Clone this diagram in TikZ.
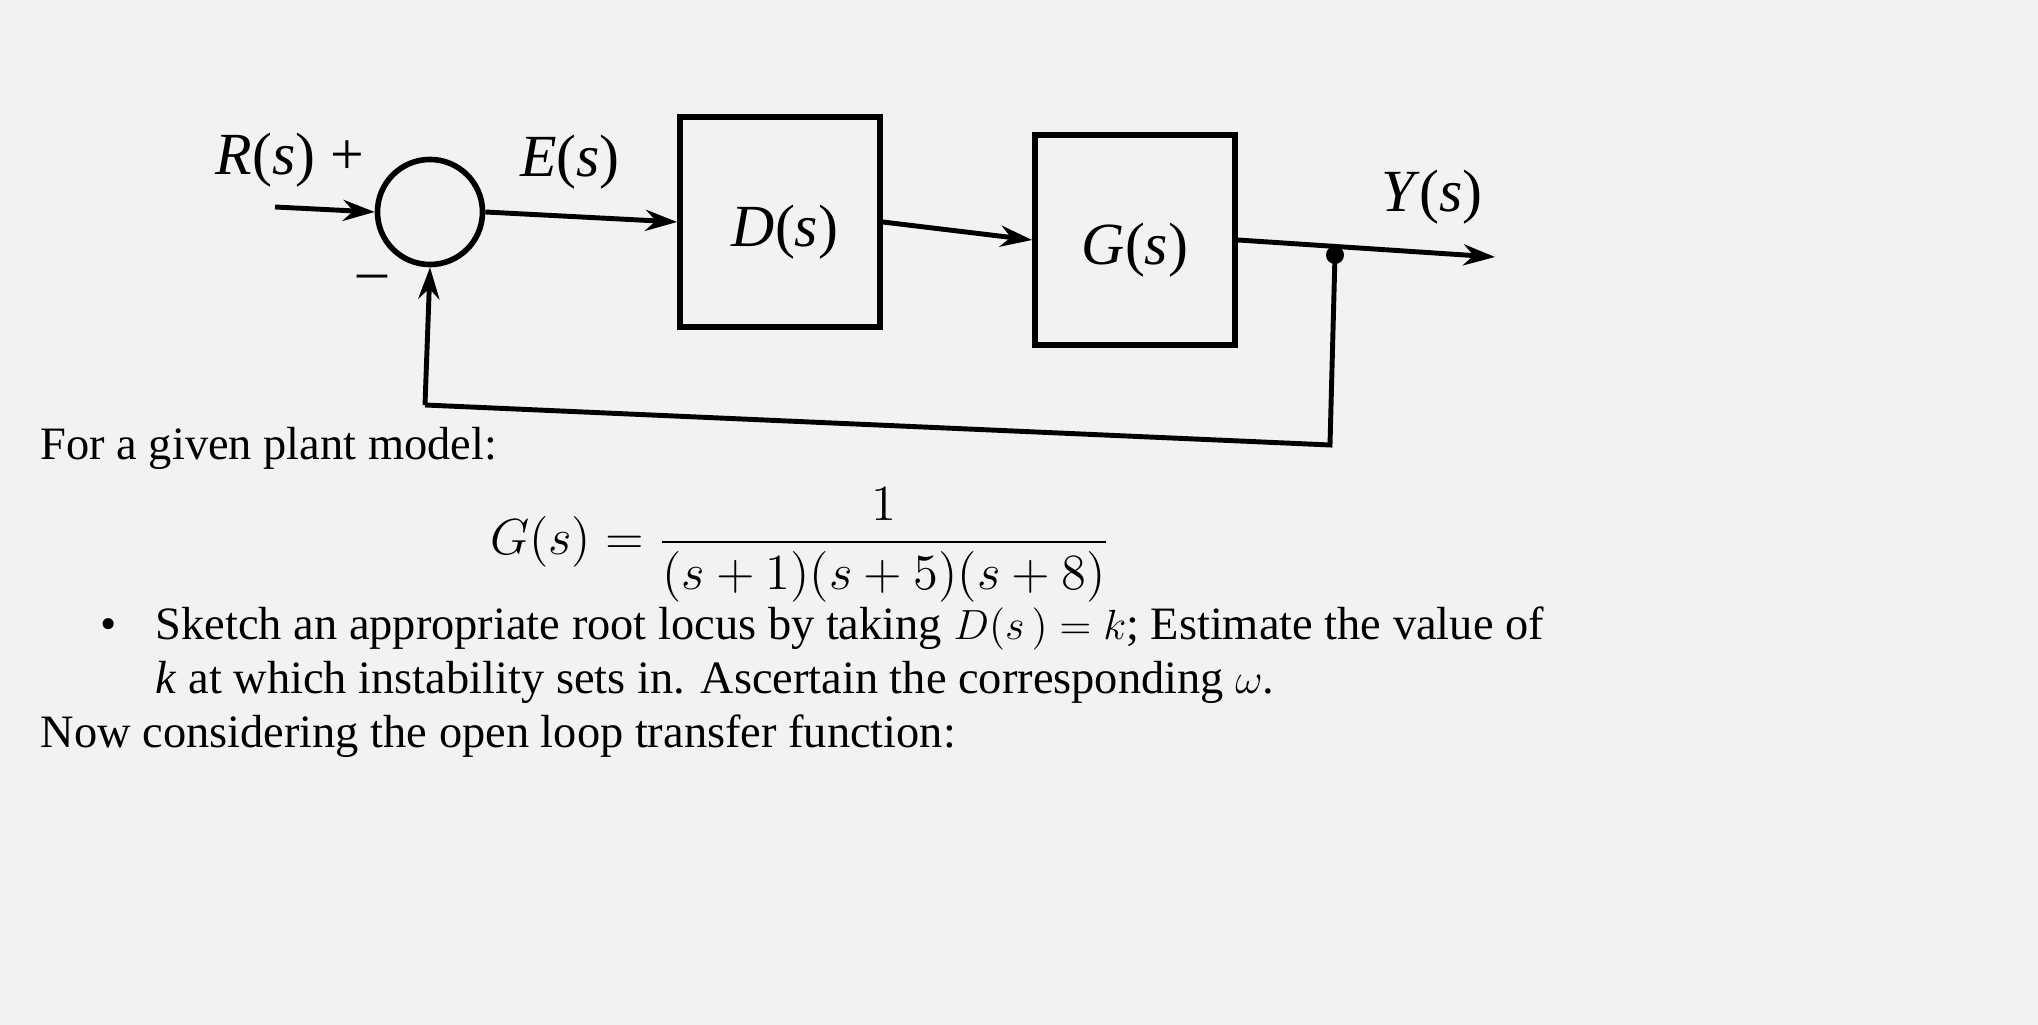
\documentclass[tikz,border=0pt]{standalone}
\usepackage{amsmath}
\usepackage{fontspec}
\setmainfont{Liberation Serif}
\usetikzlibrary{arrows.meta}
\newcommand{\iv}[1]{\textit{#1}}
\begin{document}
\begin{tikzpicture}[x=0.01cm,y=-0.01cm,
  blk/.style={draw,line width=1.6pt,minimum width=2cm,minimum height=2.1cm},
  wire/.style={line width=1.4pt},
  arr/.style={wire,-{Stealth[length=9pt,width=6pt]}},
  lbl/.style={font=\fontsize{17}{20}\selectfont},
  txt/.style={font=\fontsize{13.2}{16}\selectfont,anchor=base west,inner sep=0}]
\useasboundingbox (0,0) rectangle (2038,1025);
\fill[gray!10] (0,0) rectangle (2038,1025);
\node[circle,draw,line width=1.6pt,minimum size=1.05cm,inner sep=0] (sum) at (430,212) {};
\node[blk] (D) at (780,222) {};
\node[lbl] at (785,232) {\iv{D}(\iv{s})};
\node[blk] (G) at (1135,240) {};
\node[lbl] at (1135,250) {\iv{G}(\iv{s})};
\coordinate (in) at (275,207);
\coordinate (out) at (1495,257);
\coordinate (tap) at (1335,255);
\coordinate (br) at (1330,445);
\coordinate (bl) at (425,405);
\draw[arr] (in) -- (sum.west);
\draw[arr] (sum.east) -- (D.west);
\draw[arr] (D.east) -- (G.west);
\draw[arr] (G.east) -- (out);
\fill (tap) circle (0.09cm);
\draw[wire] (tap) -- (br) -- (bl);
\draw[arr] (bl) -- (sum.south);
\node[lbl] at (290,160) {\iv{R}(\iv{s}) +};
\node[lbl] at (372,283) {--};
\node[lbl] at (570,162) {\iv{E}(\iv{s})};
\node[lbl] at (1432,197) {\iv{Y}(\iv{s})};
\node[txt] at (40,460) {For a given plant model:};
\node[font=\fontsize{13.5}{16}\selectfont,inner sep=0] at (800,545) {$G(s)=\dfrac{1}{(s+1)(s+5)(s+8)}$};
\node[txt] at (100,640) {\textbullet};
\node[txt] at (155,640) {Sketch an appropriate root locus by taking $D(s\,)=k$; Estimate the value of};
\node[txt] at (155,694) {\iv{k} at which instability sets in. Ascertain the corresponding $\omega$.};
\node[txt] at (40,748) {Now considering the open loop transfer function:};
\end{tikzpicture}
\end{document}
